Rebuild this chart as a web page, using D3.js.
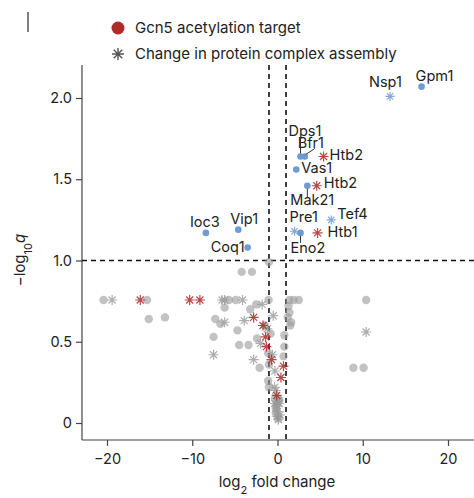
<!DOCTYPE html>
<html>
<head>
<meta charset="utf-8">
<script src="https://cdn.jsdelivr.net/npm/d3@7"></script>
<style>
  body { margin: 0; background: #fff; }
  text { font-family: Inter, "Noto Sans", sans-serif; fill: #222; }
</style>
</head>
<body>
<div id="chart"></div>
<script>
// data
var logFC = [
  -20.4, -19.4, -16.1, -15.3, -10.3, -9.1, -6.5, -6.2, -5.7, -4.9, -4.1, -1.05, 1.4, 1.9, 2.5, 10.4,
  -4.2, -3.0, -1.0, -15.1, -13.2, -7.3, -6.2, -6.7, -6.2, -7.5, -7.5, -4.7, -4.5, -3.4, -3.9, -2.8,
  -2.1, -2.5, -1.8, -3.2, -2.8, -1.7, -1.4, -1.3, -0.7, 0.7, 0.4, -0.1,
  -2.4, -2.0, -1.1, -0.6, -1.0, -1.1, -0.3, -0.2, 0.1, -0.1, 0.8, 0.8, 0.7, 1.4, 1.2, 1.6,
  10.4, 8.9, 10.1, -1.0, -0.35, 0.0, -0.3, 0.2, 0.0, -0.2, 0.1, -1.5, -0.5, -0.8, -1.2, 1.3, 1.5,
  -0.1, 0.2, -0.3, 0.1, 0.0, -0.2, 0.3,
  16.9, 13.2, 2.7, 3.2, 5.4, 2.2, 3.5, 4.6, 6.3, 2.0, 2.7, 4.7, -8.4, -4.6, -3.5
];
var negLogQ = [
  0.757, 0.757, 0.757, 0.757, 0.757, 0.757, 0.757, 0.757, 0.757, 0.757, 0.757, 0.757, 0.757, 0.757, 0.757, 0.757,
  0.93, 0.93, 0.99, 0.64, 0.65, 0.64, 0.62, 0.61, 0.71, 0.53, 0.42, 0.57, 0.48, 0.48, 0.63, 0.39,
  0.34, 0.73, 0.73, 0.70, 0.65, 0.60, 0.53, 0.47, 0.39, 0.35, 0.28, 0.17,
  0.52, 0.49, 0.43, 0.42, 0.36, 0.26, 0.32, 0.2, 0.15, 0.1, 0.54, 0.47, 0.41, 0.68, 0.65, 0.62,
  0.56, 0.34, 0.34, 0.22, 0.22, 0.13, 0.12, 0.14, 0.04, 0.06, 0.02, 0.6, 0.66, 0.55, 0.58, 0.72, 0.6,
  0.11, 0.12, 0.15, 0.03, 0.07, 0.09, 0.05,
  2.07, 2.01, 1.64, 1.64, 1.64, 1.56, 1.46, 1.46, 1.25, 1.18, 1.17, 1.17, 1.17, 1.19, 1.08
];
// "d" = dot, "a" = asterisk
var shape = [
  "d","a","a","d","a","a","a","a","d","d","a","d","d","d","d","d",
  "d","d","d","d","d","d","a","d","d","d","a","d","d","d","a","a",
  "d","d","a","d","a","a","a","a","a","a","a","a",
  "d","a","d","a","d","d","a","a","d","a","d","d","d","d","d","d",
  "a","d","d","d","a","a","a","d","a","d","a","d","a","d","a","d","d",
  "a","a","d","a","a","d","a",
  "d","a","d","d","a","d","d","a","a","a","d","a","d","d","d"
];
// "g" = not significant, "r" = Gcn5 target, "b" = significant
var group = [
  "g","g","r","g","r","r","g","g","g","g","g","g","g","g","g","g",
  "g","g","g","g","g","g","g","g","g","g","g","g","g","g","g","g",
  "g","g","g","g","r","r","r","r","r","r","r","r",
  "g","g","g","g","g","g","g","g","g","g","g","g","g","g","g","g",
  "g","g","g","g","g","g","g","g","g","g","g","g","g","g","g","g","g",
  "g","g","g","g","g","g","g",
  "b","b","b","b","r","b","b","r","b","b","b","r","b","b","b"
];
var labelNames = ["Gpm1","Nsp1","Dps1","Bfr1","Htb2","Vas1","Mak21","Htb2","Tef4","Pre1","Eno2","Htb1","Ioc3","Vip1","Coq1"];
var xTicks = [-20, -10, 0, 10, 20];
var yTicks = [0, 0.5, 1.0, 1.5, 2.0];

// label text offsets (px) from their point
var labelOffsets = [[-6,-6],[-21,-9],[-12,-21],[-7,-9],[6,3],[5,3],[-17,19],[7,2],[6,-1],[-5,-9],[-10,20],[10,4],[-16,-6],[-8,-6],[-37,4]];

var svgWidth = 474, svgHeight = 498;
var svg = d3.select("#chart").append("svg")
  .attr("width", svgWidth).attr("height", svgHeight);

var x = d3.scaleLinear().domain([-20, 20]).range([107, 448]);
var y = d3.scaleLinear().domain([0, 2]).range([423, 98]);
var colors = { g: "#9a9a9a", r: "#b02a2a", b: "#6d9bd6" };

// stray mark at top left
svg.append("line").attr("x1", 28).attr("x2", 28).attr("y1", 12).attr("y2", 32)
  .attr("stroke", "#555").attr("stroke-width", 1.5);

// axes
var leftAxis = d3.axisLeft(y).tickValues(yTicks).tickSize(6).tickSizeOuter(0);
var yAxis = svg.append("g").attr("transform", "translate(82,0)").call(leftAxis);
yAxis.select(".domain").attr("d", "M0,65V440");
yAxis.selectAll(".tick text").text(d => d === 0 ? "0" : d3.format(".1f")(d));

var bottomAxis = d3.axisBottom(x).tickValues(xTicks).tickSize(6).tickFormat(d => d < 0 ? "\u2212" + (-d) : d);
var xAxis = svg.append("g").attr("transform", "translate(0,440)").call(bottomAxis);
xAxis.select(".domain").attr("d", "M82,0H474");

svg.selectAll(".tick text").style("font-size", "14.5px").style("font-family", "Inter, sans-serif").attr("fill", "#222");
svg.selectAll(".domain, .tick line").attr("stroke", "#444").attr("stroke-width", 1.2);
yAxis.selectAll(".tick text").attr("x", -10);
xAxis.selectAll(".tick text").attr("y", 14);

// threshold lines
[-1, 1].forEach(function(v) {
  svg.append("line").attr("x1", x(v)).attr("x2", x(v)).attr("y1", 65).attr("y2", 440)
    .attr("stroke", "#111").attr("stroke-width", 1.6).attr("stroke-dasharray", "5,4");
});
svg.append("line").attr("x1", 82).attr("x2", 474).attr("y1", y(1)).attr("y2", y(1))
  .attr("stroke", "#111").attr("stroke-width", 1.6).attr("stroke-dasharray", "5,4");

// asterisk path
function star(r) {
  var p = "";
  for (var i = 0; i < 4; i++) {
    var a = i * Math.PI / 4;
    p += "M" + (-r * Math.cos(a)) + "," + (-r * Math.sin(a)) + "L" + (r * Math.cos(a)) + "," + (r * Math.sin(a));
  }
  return p;
}

var points = logFC.map((v, i) => ({ x: v, y: negLogQ[i], s: shape[i], g: group[i] }));
var order = points.slice().sort((a, b) => (a.g === "g" ? 0 : 1) - (b.g === "g" ? 0 : 1));

var marks = svg.append("g").selectAll("g").data(order).enter().append("g")
  .attr("transform", d => `translate(${x(d.x)},${y(d.y)})`);
marks.filter(d => d.s === "d").append("circle")
  .attr("r", d => d.g === "b" ? 3.3 : 4.2)
  .attr("fill", d => colors[d.g])
  .attr("opacity", d => d.g === "g" ? 0.6 : 1);
marks.filter(d => d.s === "a").append("path")
  .attr("d", d => star(d.g === "b" ? 4.5 : 5))
  .attr("stroke", d => colors[d.g])
  .attr("stroke-width", 1.2)
  .attr("opacity", d => d.g === "g" ? 0.8 : 0.85);

// labels for significant hits
var sig = points.slice(points.length - labelNames.length);
svg.append("g").selectAll("text").data(sig).enter().append("text")
  .attr("x", (d, i) => x(d.x) + labelOffsets[i][0])
  .attr("y", (d, i) => y(d.y) + labelOffsets[i][1])
  .style("font-size", "14.5px")
  .text((d, i) => labelNames[i]);

// leader lines
function leader(i, dx1, dy1, dx2, dy2) {
  var d = sig[i];
  svg.append("line")
    .attr("x1", x(d.x) + dx1).attr("y1", y(d.y) + dy1)
    .attr("x2", x(d.x) + dx2).attr("y2", y(d.y) + dy2)
    .attr("stroke", "#333").attr("stroke-width", 1);
}
leader(2, 0, -3, 0, -18);
leader(3, 1, -2, 10, -8);
leader(6, 0, 3, 0, 12);
leader(10, 0, 3, 0, 10);

// axis titles
svg.append("text").attr("x", 277).attr("y", 487).attr("text-anchor", "middle")
  .style("font-size", "15px")
  .html('log<tspan baseline-shift="sub" font-size="11px">2</tspan> fold change');
svg.append("text").attr("transform", "translate(25,260) rotate(-90)").attr("text-anchor", "middle")
  .style("font-size", "15px")
  .html('\u2212log<tspan baseline-shift="sub" font-size="11px">10</tspan><tspan font-style="italic">q</tspan>');

// legend
svg.append("circle").attr("cx", 118).attr("cy", 28).attr("r", 6.5).attr("fill", "#b02a2a");
svg.append("text").attr("x", 135).attr("y", 33).style("font-size", "15px").text("Gcn5 acetylation target");
svg.append("path").attr("transform", "translate(118,54)").attr("d", star(6))
  .attr("stroke", "#555").attr("stroke-width", 1.4);
svg.append("text").attr("x", 135).attr("y", 59).style("font-size", "15px").text("Change in protein complex assembly");
</script>
</body>
</html>
